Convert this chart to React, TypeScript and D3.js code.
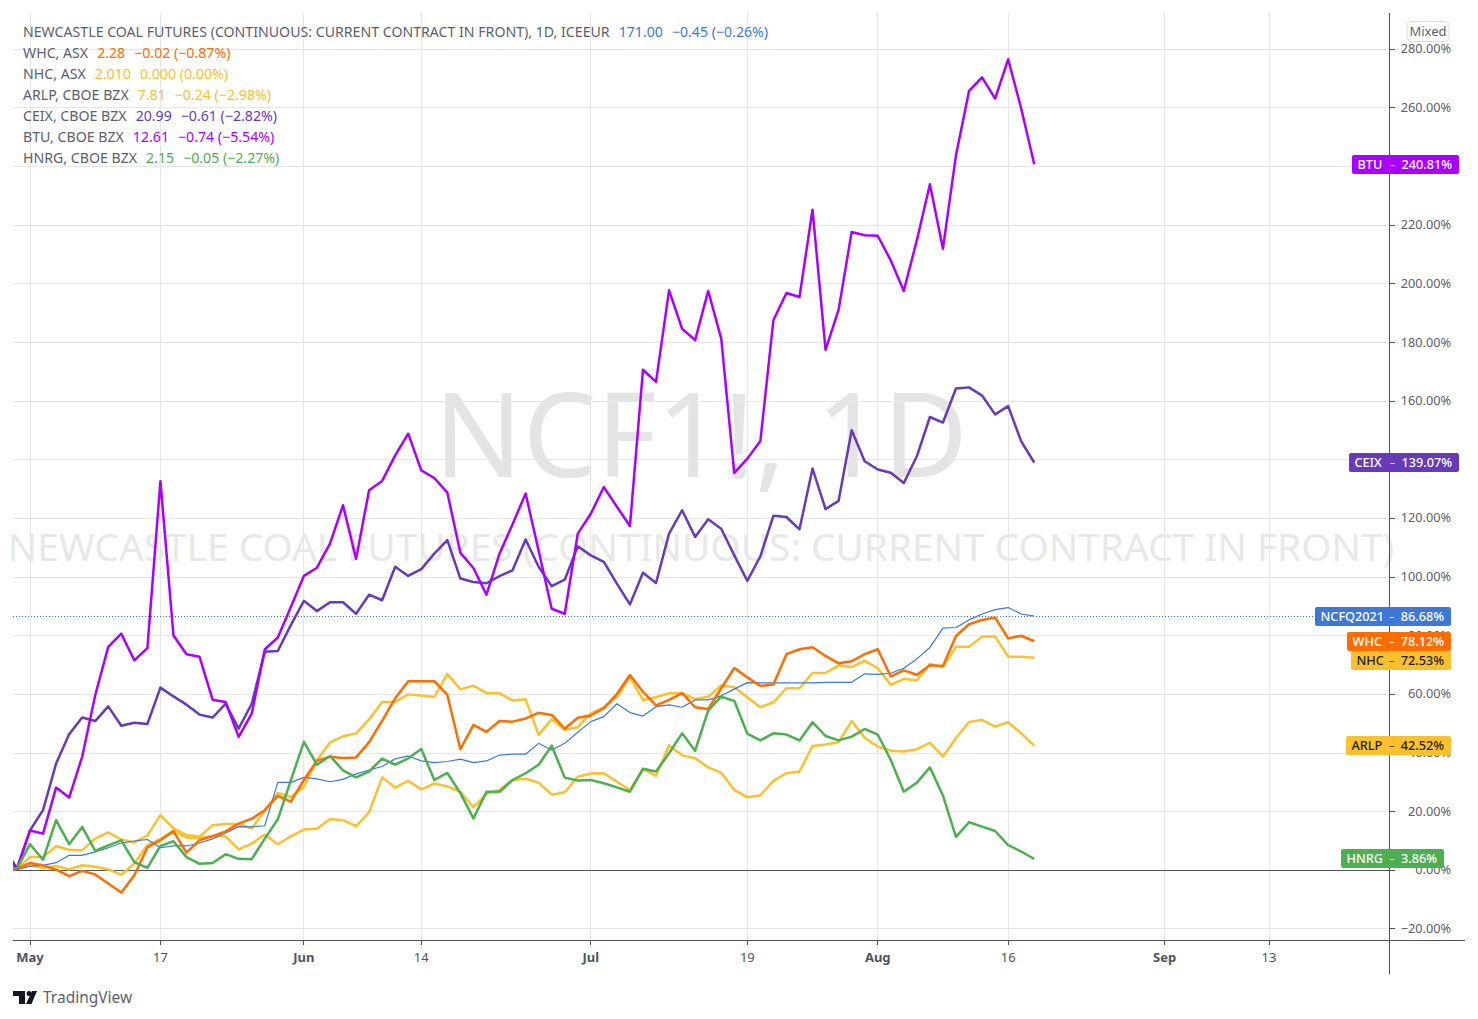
import * as d3 from "d3";

const WIDTH = 1478;
const HEIGHT = 1019;
const FONT = "'Noto Sans', sans-serif";

// values are percent change, index 0 is the "May" tick, first two points sit left of it
const FIRST_INDEX = -2;

const ncfq = [
  0.5, 0.2,
  1.4, 1.7, 2.6, 5.1, 5.1, 6.3, 7.7, 9.3, 10, 10.5,
  7.7, 8.3, 8.3, 9.3, 10.7, 12.7, 14.9, 14.8, 15.2, 30,
  30, 31.7, 31.2, 30.2, 31, 32.9, 34.2, 35.4, 38, 39,
  37.3, 36.7, 37.1, 37.9, 36.7, 37.3, 39.3, 39.6, 39.6, 43.3,
  41, 43.3, 47.1, 50.7, 52.4, 56.8, 53.8, 52.6, 55.8, 56.4,
  55.6, 58.1, 58.1, 59.5, 61.8, 64, 63.9, 63.9, 63.9, 63.9,
  63.9, 64.1, 64.1, 64.1, 67, 66.8, 67.2, 68.9, 72.1, 76,
  82.6, 82.8, 85.4, 87.4, 88.9, 89.6, 87.4, 86.68,
];
const whc = [
  -0.5, 0.5,
  2.5, 1.7, 0.2, -2, -0.2, -1.4, -4.5, -7.6, -1.7, 7.8,
  10.3, 13.3, 6, 10.3, 11.6, 13.3, 15.9, 17.6, 20.5, 25.4,
  23.4, 30.8, 37.4, 38.7, 38.3, 38.5, 43.7, 51, 58.7, 64.5,
  64.5, 64.5, 59.8, 41.3, 49.6, 47.2, 50.9, 50.7, 51.8, 53.7,
  53, 48.3, 52, 52.8, 55.3, 60.1, 66.6, 60.9, 56.2, 58.1,
  60.4, 55.6, 55, 62.1, 69, 65.8, 62.9, 63.4, 73.7, 75.4,
  76.1, 73.1, 70.6, 71.3, 73.7, 75.4, 66.1, 68.2, 66.7, 69.9,
  69.7, 79.9, 83.9, 85.4, 86.2, 79.1, 80, 78.12,
];
const nhc = [
  2, 0.5,
  4.5, 4.5, 8.2, 7, 6.8, 10.8, 12.9, 10.5, 9.5, 11.9,
  18.8, 14.3, 12, 11.5, 15.4, 15.8, 15.8, 14.3, 20.3, 26.4,
  25, 28.5, 37.5, 43.6, 45.7, 46.7, 51.5, 57.4, 57.4, 60,
  59.6, 59.1, 67, 61.7, 63, 60.4, 60.4, 57.9, 58.3, 46.2,
  51.5, 47.9, 48.8, 53.5, 55.6, 59.2, 65.8, 58.1, 59, 60.4,
  60.4, 58.4, 59.2, 63, 62.4, 59, 55.6, 57.3, 62.1, 62.1,
  67.3, 67.3, 69.9, 69.3, 71.5, 68.9, 63.2, 65.3, 64.7, 70.4,
  69.3, 76.2, 76.2, 79.7, 79.7, 72.9, 72.8, 72.53,
];
const arlp = [
  2.5, 1.1,
  1.6, 0.9, 1.5, 0.3, 1.7, 1.2, 0.3, -1.5, 2.3, 8.6,
  10.6, 13.6, 11.1, 11.1, 11.6, 11.6, 7.1, 9.1, 12.2, 8.9,
  11.6, 13.9, 14.2, 17.5, 17.1, 15.1, 19.8, 31.7, 28.2, 30.5,
  27.6, 29.6, 28.6, 26.8, 21.5, 26, 27.4, 30.8, 31.2, 29.9,
  25.8, 26.6, 31.9, 33, 33.1, 30.2, 27.4, 34.6, 32.2, 42.6,
  39.2, 38.2, 35.1, 33.3, 27.4, 24.9, 25.6, 30.5, 33.1, 33.7,
  42.4, 42.9, 43.7, 50.9, 45.2, 42.2, 40.8, 40.5, 41.3, 43.5,
  38.8, 45.1, 50.6, 51.3, 49, 50.5, 46.7, 42.52,
];
const ceix = [
  8, 0.6,
  13.6, 20.5, 36.4, 46.4, 52.1, 50.9, 55.9, 49.3, 50.3, 49.9,
  62.3, 59.3, 56.5, 53.1, 52.1, 56.8, 48.3, 56.8, 74.5, 74.8,
  83.6, 91.9, 88.4, 91.4, 91.4, 87.5, 94, 92.1, 103.5, 100.4,
  102.7, 108, 112.6, 99.5, 98.3, 97.9, 100.3, 102.3, 112.8, 103.5,
  96.9, 99.1, 110.5, 107.4, 105.2, 97.8, 90.7, 101.5, 98, 114.8,
  122.8, 113.7, 119.7, 116.5, 107.4, 98.7, 107.1, 120.9, 120.5, 116.3,
  137, 123.2, 126, 150.1, 139.5, 136.7, 135.6, 132.1, 141.2, 154.6,
  152.7, 164.3, 164.7, 161.9, 155.5, 158.3, 146.3, 139.07,
];
const btu = [
  6, 0.5,
  13.6, 12.5, 28.2, 24.8, 38.7, 59.7, 76.2, 80.7, 71.6, 75.8,
  132.7, 80.1, 73.7, 72.8, 58.2, 57.4, 45.5, 53.4, 75.3, 79.4,
  89.8, 100.4, 103.2, 111.4, 124.5, 106.2, 129.6, 132.8, 141.5, 148.9,
  136.4, 133.8, 128.8, 108.2, 103.1, 94, 108, 118, 128.5, 109,
  89.2, 87.5, 114.8, 121.6, 130.7, 124, 117.4, 170.7, 166.6, 197.8,
  184.7, 180.8, 197.6, 181.3, 135.5, 140.4, 146.4, 187.6, 196.9, 195.5,
  225.3, 177.5, 191.2, 217.7, 216.6, 216.4, 208, 197.6, 214.9, 234,
  212, 243.9, 265.8, 270.4, 263.2, 276.6, 259.8, 240.81,
];
const hnrg = [
  1, 0.6,
  8.9, 3.6, 17.1, 8.9, 14.8, 6.6, 8.5, 10.2, 2.8, 0.8,
  8.3, 9.9, 4.5, 2.2, 2.5, 5.5, 3.9, 3.8, 10.8, 17.4,
  30.7, 43.8, 36, 39, 34.1, 31.7, 33.7, 38.1, 36, 38.2,
  41.4, 30.8, 33.2, 26.3, 17.7, 26.8, 26.8, 30.8, 33.1, 36,
  42.5, 31.6, 30.6, 30.8, 29.7, 28.3, 26.8, 34.6, 33.7, 39.9,
  46.7, 40.8, 54.5, 59.2, 57.8, 46.6, 44.3, 46.7, 46.3, 44.3,
  50.5, 45.8, 44.3, 45.6, 48.2, 46.3, 37.6, 26.8, 29.9, 35.1,
  25.5, 11.4, 16.4, 14.9, 13.4, 8.6, 6.4, 3.86,
];

const yTicks = d3.range(-20, 281, 20);
const xTickIndex = [0, 10, 21, 30, 43, 55, 65, 75, 87, 95];
const xTickLabels = ["May", "17", "Jun", "14", "Jul", "19", "Aug", "16", "Sep", "13"];
const monthTicks = ["May", "Jun", "Jul", "Aug", "Sep"];

const legendNames = [
  "NEWCASTLE COAL FUTURES (CONTINUOUS: CURRENT CONTRACT IN FRONT), 1D, ICEEUR",
  "WHC, ASX",
  "NHC, ASX",
  "ARLP, CBOE BZX",
  "CEIX, CBOE BZX",
  "BTU, CBOE BZX",
  "HNRG, CBOE BZX",
];
const legendValues = ["171.00", "2.28", "2.010", "7.81", "20.99", "12.61", "2.15"];
const legendChanges = ["−0.45 (−0.26%)", "−0.02 (−0.87%)", "0.000 (0.00%)", "−0.24 (−2.98%)", "−0.61 (−2.82%)", "−0.74 (−5.54%)", "−0.05 (−2.27%)"];
const legendColors = ["#3d78d8", "#ff6d00", "#fbc02d", "#fbc02d", "#673ab7", "#aa00ff", "#4caf50"];

const drawOrder = [
  { values: arlp, color: "#fbc02d", width: 2.5 },
  { values: nhc, color: "#fbc02d", width: 2.5 },
  { values: ncfq, color: "#3d78d8", width: 1.2 },
  { values: whc, color: "#ff6d00", width: 2.5 },
  { values: ceix, color: "#673ab7", width: 2.5 },
  { values: btu, color: "#aa00ff", width: 2.5 },
  { values: hnrg, color: "#4caf50", width: 2.5 },
];

const tags = [
  { name: "BTU", value: "240.81%", color: "#aa00ff", text: "#fff", left: 1352, right: 1459, y: 164.5 },
  { name: "CEIX", value: "139.07%", color: "#673ab7", text: "#fff", left: 1349, right: 1459, y: 462.5 },
  { name: "NCFQ2021", value: "86.68%", color: "#3d78d8", text: "#fff", left: 1315, right: 1451, y: 616.5 },
  { name: "NHC", value: "72.53%", color: "#fbc02d", text: "#1e1e1e", left: 1351, right: 1451, y: 660.5 },
  { name: "WHC", value: "78.12%", color: "#ff6d00", text: "#fff", left: 1347, right: 1451, y: 641.5 },
  { name: "ARLP", value: "42.52%", color: "#fbc02d", text: "#1e1e1e", left: 1346, right: 1451, y: 745.5 },
  { name: "HNRG", value: "3.86%", color: "#4caf50", text: "#fff", left: 1341, right: 1444, y: 858.5 },
];

const plot = { left: 13, right: 1390, top: 13, bottom: 940.5 };

const crisp = (v: number) => Math.floor(v) + 0.5;

export default function App() {
  const x = d3.scaleLinear().domain([0, 95]).range([30, 1269]);
  const y = d3.scaleLinear().domain([0, 280]).range([870.3, 49.3]);

  const line = d3
    .line<number>()
    .x((_, i) => x(i + FIRST_INDEX))
    .y((d) => y(d));

  return (
    <svg
      width={WIDTH}
      height={HEIGHT}
      style={{ position: "absolute", left: 0, top: 0, background: "#fff", fontFamily: FONT }}
    >
      <defs>
        <clipPath id="plot">
          <rect x={plot.left} y={plot.top} width={plot.right - plot.left} height={plot.bottom - plot.top} />
        </clipPath>
      </defs>

      {/* watermark */}
      <text x={701} y={477} textAnchor="middle" fontSize={116.5} fill="#e4e4e4">NCF1!, 1D</text>
      <text x={701} y={561} textAnchor="middle" fontSize={38.8} fill="#e8e8e8">{legendNames[0].replace(", 1D, ICEEUR", "")}</text>

      {/* grid */}
      {xTickIndex.map((t) => (
        <line key={t} x1={crisp(x(t))} x2={crisp(x(t))} y1={plot.top} y2={plot.bottom} stroke="#e6e6e6" />
      ))}
      {yTicks.map((t) => (
        <line key={t} x1={plot.left} x2={plot.right} y1={crisp(y(t))} y2={crisp(y(t))} stroke="#e6e6e6" />
      ))}
      <line x1={plot.left} x2={plot.right} y1={crisp(y(0))} y2={crisp(y(0))} stroke="#50535e" />

      {/* last price line of the main series */}
      <line x1={plot.left} x2={1315} y1={crisp(y(86.68))} y2={crisp(y(86.68))} stroke="#2f6fdc" strokeDasharray="1 2" />

      <g clipPath="url(#plot)" fill="none" strokeLinejoin="round">
        {drawOrder.map((s, i) => (
          <path key={i} d={line(s.values) ?? ""} stroke={s.color} strokeWidth={s.width} />
        ))}
      </g>

      {/* axes */}
      <line x1={plot.left} x2={1465} y1={plot.bottom} y2={plot.bottom} stroke="#50535e" />
      <line x1={plot.right - 0.5} x2={plot.right - 0.5} y1={plot.top} y2={974.5} stroke="#50535e" />
      {xTickIndex.map((t, i) => (
        <g key={t}>
          <line x1={crisp(x(t))} x2={crisp(x(t))} y1={plot.bottom} y2={945} stroke="#50535e" />
          <text
            x={x(t)}
            y={962}
            textAnchor="middle"
            fontSize={13}
            fontWeight={monthTicks.includes(xTickLabels[i]) ? 700 : 400}
            fill="#50535e"
          >
            {xTickLabels[i]}
          </text>
        </g>
      ))}
      {yTicks.map((t) => (
        <g key={t}>
          <line x1={plot.right} x2={plot.right + 5} y1={crisp(y(t))} y2={crisp(y(t))} stroke="#50535e" />
          <text x={1451} y={y(t) + 4} textAnchor="end" fontSize={12.7} fill="#5d606b">
            {(t < 0 ? "−" : "") + Math.abs(t).toFixed(2) + "%"}
          </text>
        </g>
      ))}

      {/* legend */}
      <g fontSize={14.15} style={{ whiteSpace: "pre" }}>
        {legendNames.map((name, i) => (
          <text key={name} x={23} y={37 + i * 21} fill="#5d606b">
            {name}
            <tspan fill={legendColors[i]} dx={9}>{legendValues[i]}</tspan>
            <tspan fill={legendColors[i]} dx={9}>{legendChanges[i]}</tspan>
          </text>
        ))}
      </g>

      {/* price tags */}
      {tags.map((t) => (
        <g key={t.name} fontWeight={500} fontSize={12.7}>
          <rect x={t.left} y={t.y - 9.5} width={t.right - t.left} height={19} rx={2} fill={t.color} />
          <text x={t.left + 5.5} y={t.y + 4.5} fill={t.text}>{t.name}</text>
          <text x={t.right - 7} y={t.y + 4.5} textAnchor="end" fill={t.text} style={{ whiteSpace: "pre" }}>
            <tspan fontSize={9}>−</tspan>{"  " + t.value}
          </text>
        </g>
      ))}

      {/* Mixed button */}
      <rect x={1407} y={21.5} width={42} height={20} rx={4} fill="#fff" stroke="#dcdce4" />
      <text x={1428} y={36} textAnchor="middle" fontSize={13} fill="#5d606b">Mixed</text>

      {/* logo */}
      <g fill="#131722">
        <path d="M13 991h12v13h-6v-8h-6z" />
        <circle cx={29} cy={993.5} r={2.5} />
        <path d="M32 991h5l-5.5 13h-5.5z" />
      </g>
      <text x={43} y={1003} fontSize={15.5} fill="#5d606b">TradingView</text>
    </svg>
  );
}
